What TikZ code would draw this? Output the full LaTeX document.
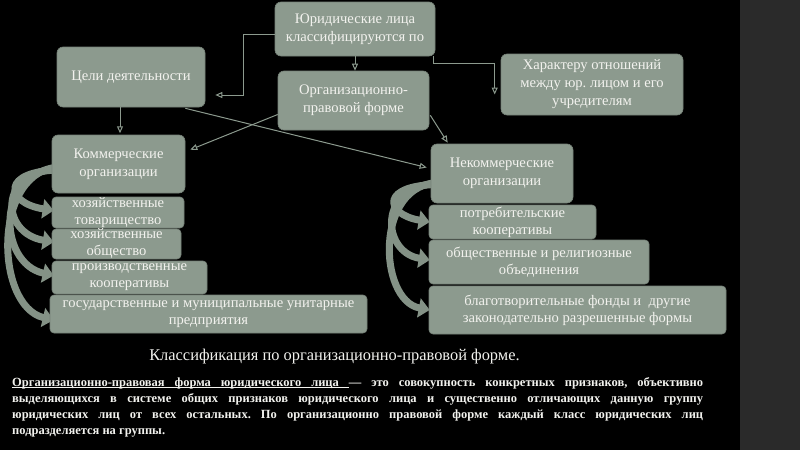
\documentclass[tikz,border=0pt]{standalone}
\usepackage{fontspec}
\setmainfont{Liberation Serif}
\usetikzlibrary{arrows.meta,calc}
\pgfdeclarelayer{bg}
\pgfdeclarelayer{arr}
\pgfsetlayers{bg,arr,main}
\definecolor{boxfill}{RGB}{140,154,142}
\definecolor{boxedge}{RGB}{118,130,120}
\definecolor{txt}{RGB}{242,242,238}
\definecolor{strip}{RGB}{42,42,42}
\definecolor{blkcol}{RGB}{132,146,134}
\newcommand\ulw[1]{\setbox0\hbox{#1}\rlap{\vrule width\wd0 height -1.3pt depth 2pt}\box0}
\newcommand\uls{\leaders\hrule height -1.3pt depth 2pt\hskip\fontdimen2\font plus\fontdimen3\font minus\fontdimen4\font}
\frenchspacing
\begin{document}
\begin{tikzpicture}[x=1pt,y=-1pt,
  box/.style={draw=boxedge, line width=0.6pt, fill=boxfill, rounded corners=6pt, inner sep=0pt,
    text=txt, align=center, font=\fontsize{14.6}{18}\selectfont},
  subbox/.style={box, rounded corners=4pt, font=\fontsize{14.6}{17}\selectfont},
  conn/.style={draw=boxfill, line width=1pt, -{Triangle[open,length=7pt,width=6pt]}},
  blk/.style={draw=blkcol, line width=7pt, -{Triangle[length=11pt,width=19pt]}}]
\useasboundingbox (0,0) rectangle (800,450);
\begin{pgfonlayer}{bg}
\fill[black] (0,0) rectangle (740,450);
\fill[strip] (740,0) rectangle (800,450);
\end{pgfonlayer}

% boxes
\node[box, minimum width=160pt, minimum height=54pt] (top) at (355,29) {Юридические лица\\классифицируются по};
\node[box, minimum width=148pt, minimum height=60pt] (goals) at (131,77) {Цели деятельности};
\node[box, minimum width=151pt, minimum height=59pt] (opf) at (353.5,100.5) {Организационно-\\правовой форме};
\node[box, minimum width=182pt, minimum height=61pt] (char) at (592,84.5) {Характеру отношений\\между юр. лицом и его\\учредителям};
\node[box, minimum width=133pt, minimum height=58pt] (comm) at (118.5,164) {Коммерческие\\организации};
\node[box, minimum width=142pt, minimum height=59pt] (noncomm) at (502,173.5) {Некоммерческие\\организации};

\node[subbox, minimum width=132pt, minimum height=31pt] (c1) at (118,212.5) {хозяйственные\\товарищество};
\node[subbox, minimum width=129pt, minimum height=30pt] (c2) at (116.5,244) {хозяйственные\\общество};
\node[subbox, minimum width=155pt, minimum height=33pt] (c3) at (129.5,277.5) {производственные\\кооперативы};
\node[subbox, minimum width=317pt, minimum height=38pt] (c4) at (208.5,314) {государственные и муниципальные унитарные\\предприятия};

\node[subbox, minimum width=167pt, minimum height=34pt] (n1) at (512.5,222) {потребительские\\кооперативы};
\node[subbox, minimum width=220pt, minimum height=44pt] (n2) at (539,262) {общественные и религиозные\\объединения};
\node[subbox, minimum width=297pt, minimum height=48pt] (n3) at (577.5,310) {благотворительные фонды и\ \ другие\\законодательно разрешенные формы};

% thin connectors
\draw[conn] ($(top.west)+(0,5)$) -- ++(-31,0) |- ($(goals.east)+(10,18)$);
\draw[conn] (top.south) -- (top.south |- opf.north);
\draw[conn] ($(top.south east)+(-2,0)$) -- ++(0,7) -| ($(char.west)+(-6,10)$);
\draw[conn] ($(goals.south)+(-11,0)$) -- ($(goals.south)+(-11,26)$);
\draw[conn] ($(goals.south east)+(-20,1)$) -- ($(noncomm.west)+(-4,-6)$);
\draw[conn] ($(opf.west)+(0,14)$) -- ($(comm.north east)+(5,15)$);
\draw[conn] ($(opf.south east)+(1,-15)$) -- ($(noncomm.north west)+(17,-1)$);

% block arrows
\begin{pgfonlayer}{arr}
\draw[blk] ($(comm.west)+(10,6)$) .. controls (0,170) and (5,203) .. ($(c1.west)+(2,-2)$);
\draw[blk] ($(comm.west)+(10,5)$) .. controls (-3,169) and (0,233) .. ($(c2.west)+(2,-2)$);
\draw[blk] ($(comm.west)+(10,4)$) .. controls (-5,168) and (-3,263) .. ($(c3.west)+(2,-2)$);
\draw[blk] ($(comm.west)+(10,3)$) .. controls (-8,167) and (-6,306) .. ($(c4.west)+(4,6)$);

\draw[blk] ($(noncomm.west)+(10,11)$) .. controls (380,184) and (384,214) .. ($(n1.west)+(1,0)$);
\draw[blk] ($(noncomm.west)+(10,10)$) .. controls (377,183) and (381,252) .. ($(n2.west)+(1,-2)$);
\draw[blk] ($(noncomm.west)+(10,9)$) .. controls (374,182) and (378,300) .. ($(n3.west)+(1,0)$);
\end{pgfonlayer}

% caption
\node[text=txt, font=\fontsize{16.4}{19}\selectfont, inner sep=0pt] (cap) at (334.5,357) {Классификация по организационно-правовой форме.};

% paragraph
\node[text=txt, anchor=north west, inner sep=0pt, text width=691pt, align=justify,
  font=\bfseries\fontsize{12.5}{16}\selectfont] (para) at (12,377)
{\ulw{Организационно-правовая}\uls\ulw{форма}\uls\ulw{юридического}\uls\ulw{лица}\uls— это совокупность конкретных признаков, объективно\linebreak выделяющихся в системе общих признаков юридического лица и существенно отличающих данную группу\linebreak юридических лиц от всех остальных. По организационно правовой форме каждый класс юридических лиц\linebreak подразделяется на группы.};
\end{tikzpicture}
\end{document}
